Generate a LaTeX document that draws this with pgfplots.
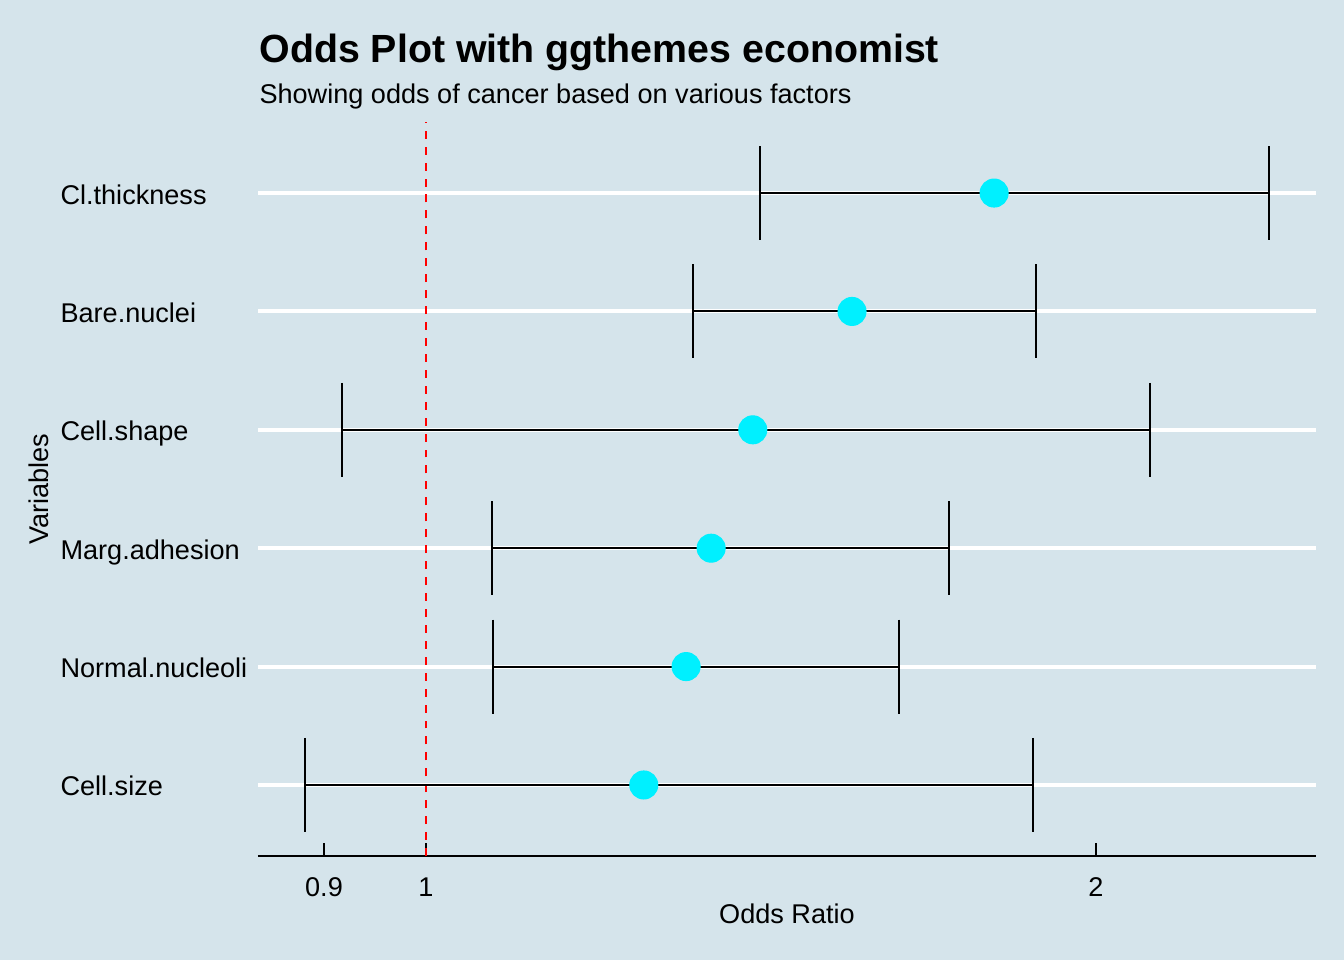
\documentclass[border=0pt]{standalone}
\usepackage{fontspec}
\setmainfont{Liberation Sans}
\usepackage{pgfplots}
\pgfplotsset{compat=1.18}

\definecolor{econbg}{HTML}{D5E4EB}
\definecolor{ptcyan}{HTML}{00F0FF}
% 1 px of the 1344x960 image
\def\px{0.3764pt}

\begin{document}
\begin{tikzpicture}
\fill[econbg] (0,0) rectangle (1344*\px, 960*\px);

\begin{axis}[
    at={(258*\px,104*\px)}, anchor=south west,
    scale only axis,
    width=398.23pt, height=276.28pt,
    xmode=log,
    xmin=0.8406, xmax=2.511,
    ymin=0.4, ymax=6.6,
    axis x line*=bottom, axis y line*=left,
    x axis line style={black, line width=0.75pt, -},
    y axis line style={draw=none},
    xtick={0.9,1,2}, xticklabels={0.9,1,2},
    xminorticks=false,
    x tick style={black, line width=0.75pt},
    tick align=inside, major tick length=4.89pt,
    ytick={1,...,6},
    yticklabels={Cell.size,Normal.nucleoli,Marg.adhesion,Cell.shape,Bare.nuclei,Cl.thickness},
    y tick style={draw=none},
    ymajorgrids, grid style={white, line width=1.5pt},
    /pgf/number format/assume math mode=true,
    tick label style={font=\fontsize{10.2}{12}\selectfont},
    xticklabel style={anchor=base, inner sep=0pt, yshift=-15.06pt},
    yticklabel style={anchor=base west, inner sep=0pt, xshift=-74.53pt, yshift=-4.14pt},
]
% reference line at OR = 1
\addplot[red, line width=0.5pt, dash pattern=on 3pt off 3pt] coordinates {(1,0.4) (1,6.6)};

% confidence intervals
\pgfplotsset{ci/.style={black, line width=0.75pt, mark=|, mark size=17.69pt, mark options={solid}}}
\addplot[ci] coordinates {(1.4126,6) (2.392,6)};
\addplot[ci] coordinates {(1.3184,5) (1.8791,5)};
\addplot[ci] coordinates {(0.9168,4) (2.1151,4)};
\addplot[ci] coordinates {(1.0707,3) (1.7179,3)};
\addplot[ci] coordinates {(1.0718,2) (1.6318,2)};
\addplot[ci] coordinates {(0.8823,1) (1.8733,1)};

% odds ratios
\addplot[only marks, mark=*, mark size=5.27pt, mark options={fill=ptcyan, draw=ptcyan}] coordinates {
    (1.800,6) (1.554,5) (1.4024,4) (1.3432,3) (1.3089,2) (1.2528,1)
};
\end{axis}

\node[anchor=base west, inner sep=0pt, font=\fontsize{14.8}{18}\selectfont\bfseries] at (259*\px, 897*\px) {Odds Plot with ggthemes economist};
\node[anchor=base west, inner sep=0pt, font=\fontsize{10.2}{12}\selectfont] at (259*\px, 856*\px) {Showing odds of cancer based on various factors};
\node[anchor=base, inner sep=0pt, font=\fontsize{10.2}{12}\selectfont] at (787*\px, 37*\px) {Odds Ratio};
\node[anchor=base, rotate=90, inner sep=0pt, font=\fontsize{10.2}{12}\selectfont] at (48*\px, 471*\px) {Variables};
\end{tikzpicture}
\end{document}
